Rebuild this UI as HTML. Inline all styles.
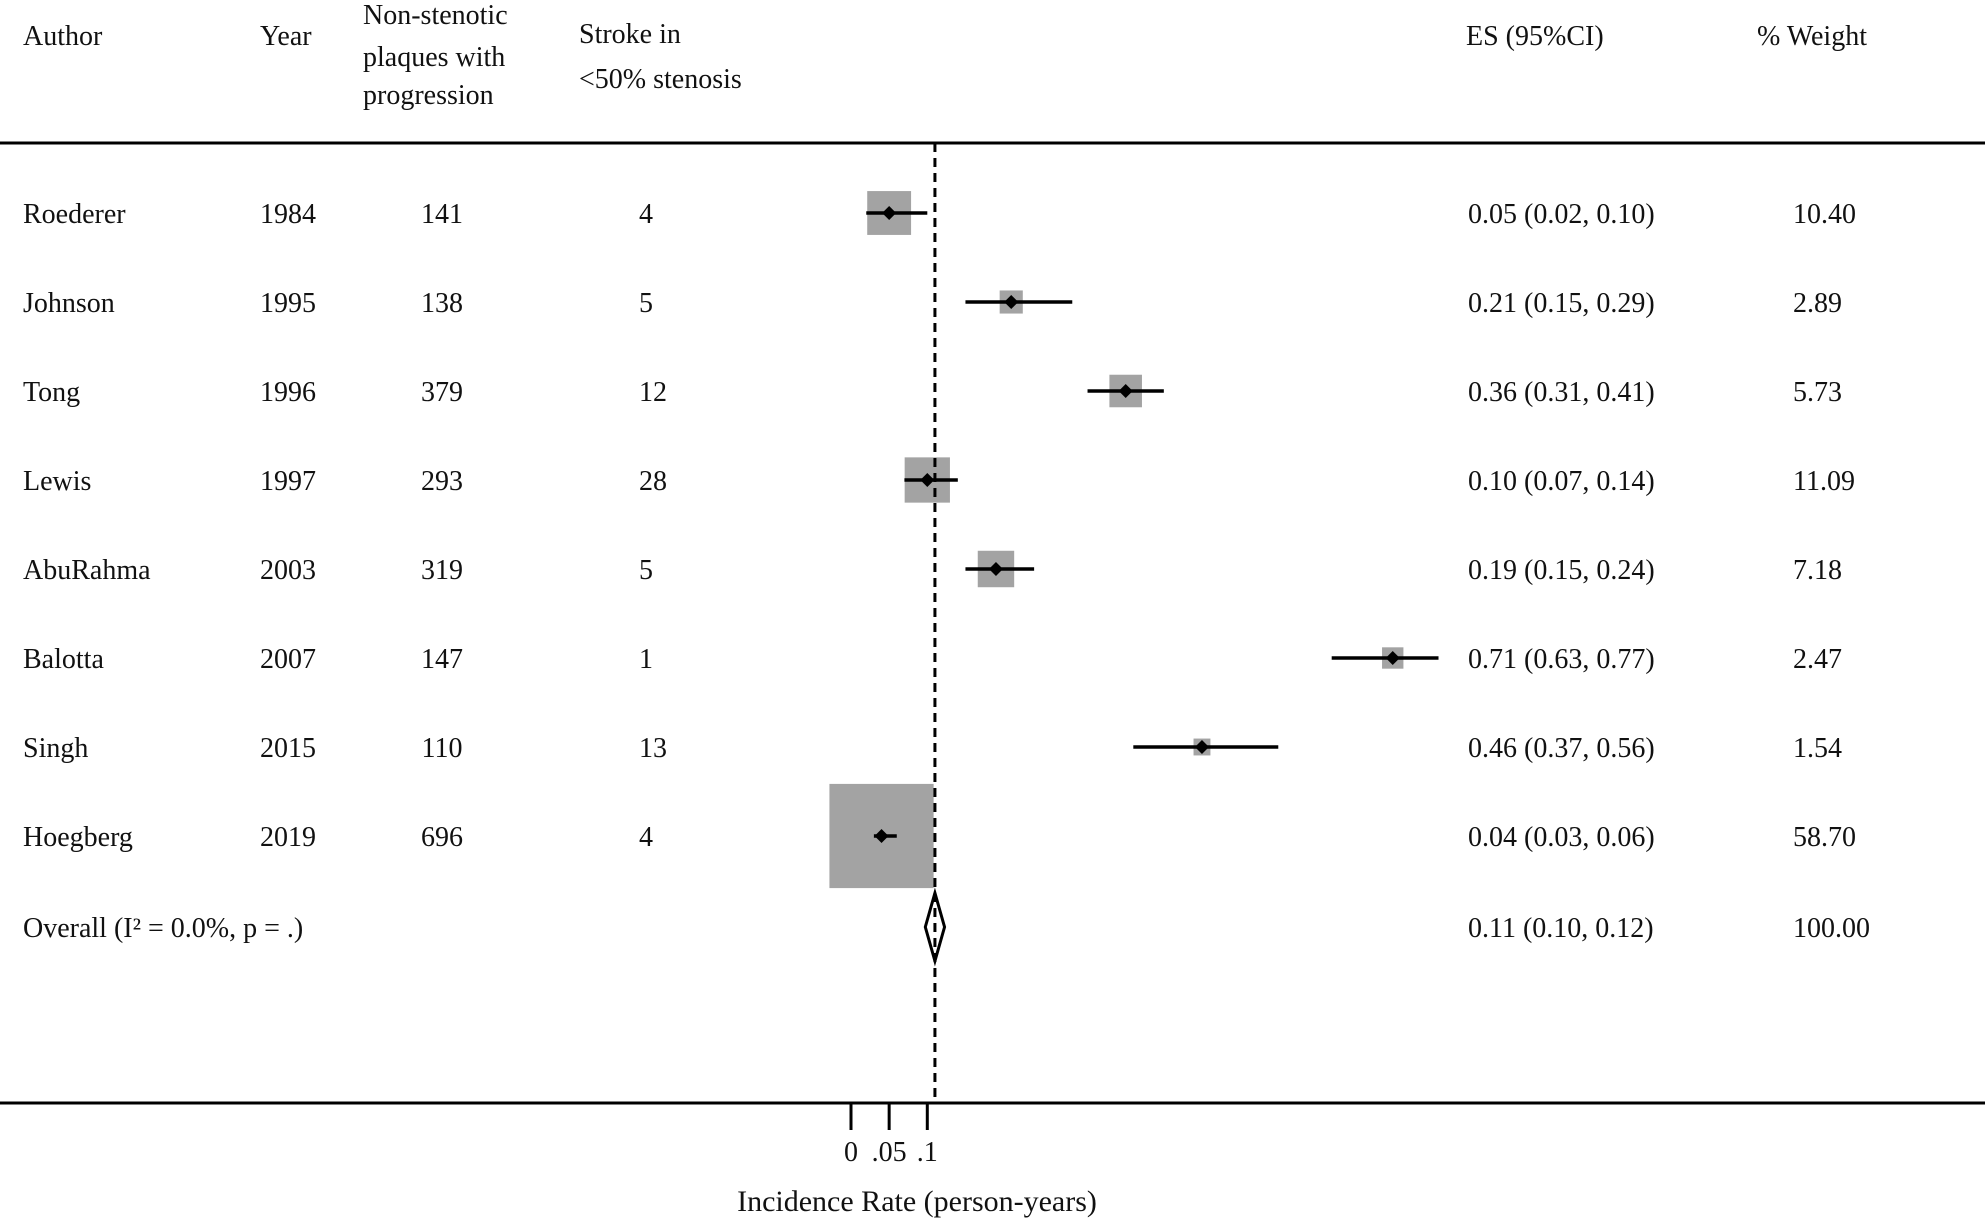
<!DOCTYPE html>
<html><head><meta charset="utf-8"><style>
html,body{margin:0;padding:0;background:#fff}
svg{display:block}
text{font-family:"Liberation Serif",serif;font-size:28px;fill:#111}
</style></head><body>
<svg id="plot" width="1985" height="1224" viewBox="0 0 1985 1224">
<g>
<text x="23" y="45">Author</text>
<text x="260" y="45">Year</text>
<text x="363" y="24">Non-stenotic</text>
<text x="363" y="66">plaques with</text>
<text x="363" y="104">progression</text>
<text x="579" y="43">Stroke in</text>
<text x="579" y="88">&lt;50% stenosis</text>
<text x="1466" y="45">ES (95%CI)</text>
<text x="1757" y="45">% Weight</text>
</g>
<line x1="0" y1="143" x2="1985" y2="143" stroke="#000" stroke-width="3"/>
<line x1="0" y1="1103" x2="1985" y2="1103" stroke="#000" stroke-width="3"/>
<g id="rows"></g>
<g id="marks"></g>
<g id="axis"></g>
<text x="917" y="1211" text-anchor="middle" style="font-size:30px">Incidence Rate (person-years)</text>
</svg>
<script>
const authors=["Roederer","Johnson","Tong","Lewis","AbuRahma","Balotta","Singh","Hoegberg"];
const years=["1984","1995","1996","1997","2003","2007","2015","2019"];
const plaques=["141","138","379","293","319","147","110","696"];
const strokes=["4","5","12","28","5","1","13","4"];
const es=[0.05,0.21,0.36,0.10,0.19,0.71,0.46,0.04];
const lo=[0.02,0.15,0.31,0.07,0.15,0.63,0.37,0.03];
const hi=[0.10,0.29,0.41,0.14,0.24,0.77,0.56,0.06];
const weights=["10.40","2.89","5.73","11.09","7.18","2.47","1.54","58.70"];
const overall=[0.11,0.10,0.12];
const tickVals=[0,0.05,0.1];
const tickLabels=["0",".05",".1"];

const NS="http://www.w3.org/2000/svg";
const xs=v=>851+763*v;
const ys=i=>213+89*i;
const overallY=927;
function mk(tag,attrs,parent,txt){const e=document.createElementNS(NS,tag);for(const k in attrs)e.setAttribute(k,attrs[k]);if(txt!==undefined)e.textContent=txt;parent.appendChild(e);return e;}
const rows=document.getElementById('rows'),marks=document.getElementById('marks'),axis=document.getElementById('axis');
const f=v=>v.toFixed(2);
authors.forEach((a,i)=>{
  const y=ys(i)+10;
  let t=mk('text',{x:23,y:y},rows,a);
  
  
  t=mk('text',{x:260,y:y},rows,years[i]);
  
  
  t=mk('text',{x:442,y:y,'text-anchor':'middle'},rows,plaques[i]);
  
  
  t=mk('text',{x:639,y:y},rows,strokes[i]);
  
  
  t=mk('text',{x:1468,y:y},rows,f(es[i])+' ('+f(lo[i])+', '+f(hi[i])+')');
  
  
  t=mk('text',{x:1793,y:y},rows,weights[i]);
  
  
  const s=13.6*Math.sqrt(parseFloat(weights[i]));
  const cx=xs(es[i]),cy=ys(i);
  let b=mk('rect',{x:cx-s/2,y:cy-s/2,width:s,height:s,fill:'#a3a3a3'},marks);
  
  
  let l=mk('line',{x1:xs(lo[i]),x2:xs(hi[i]),y1:cy,y2:cy,stroke:'#000','stroke-width':3.5},marks);
  
  
  let p=mk('polygon',{points:`${cx-7},${cy} ${cx},${cy-7} ${cx+7},${cy} ${cx},${cy+7}`,fill:'#000'},marks);
  
  
});
let t=mk('text',{x:23,y:overallY+10},rows,'Overall  (I² = 0.0%, p = .)');


t=mk('text',{x:1468,y:overallY+10},rows,f(overall[0])+' ('+f(overall[1])+', '+f(overall[2])+')');


t=mk('text',{x:1793,y:overallY+10},rows,'100.00');


let d=mk('line',{x1:xs(overall[0]),x2:xs(overall[0]),y1:143,y2:1103,stroke:'#000','stroke-width':3,'stroke-dasharray':'9,6'},marks);


const ox=xs(overall[0]);
let dm=mk('polygon',{points:`${xs(overall[1])-2},${overallY} ${ox},${overallY-34} ${xs(overall[2])+2},${overallY} ${ox},${overallY+34}`,fill:'none',stroke:'#000','stroke-width':3},marks);


tickVals.forEach((v,i)=>{
  let tk=mk('line',{x1:xs(v),x2:xs(v),y1:1103,y2:1130,stroke:'#000','stroke-width':3},axis);
  
  
  let tl=mk('text',{x:xs(v),y:1161,'text-anchor':'middle'},axis,tickLabels[i]);
  
  
});
</script>
</body></html>
